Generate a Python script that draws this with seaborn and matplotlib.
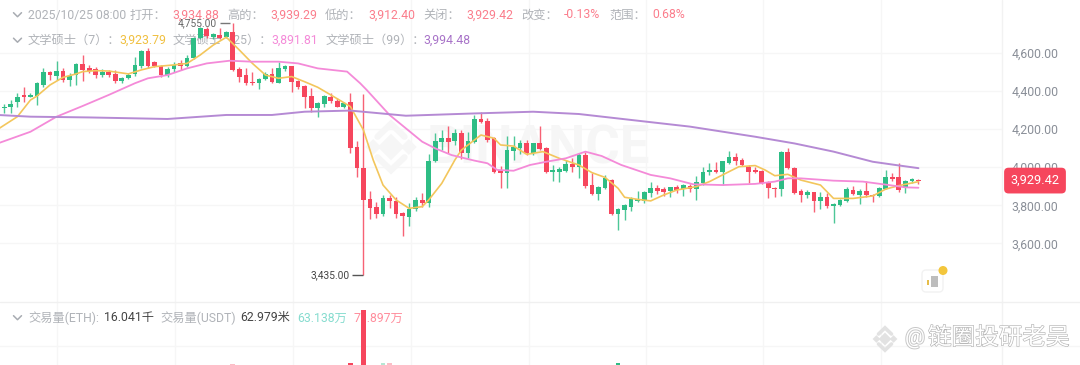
import matplotlib
matplotlib.use("Agg")
import matplotlib.pyplot as plt
import matplotlib.patheffects as pe
from matplotlib.patches import FancyBboxPatch, Circle, Rectangle
import seaborn as sns

# candle values, one list per field, first candle is partly cut off
opens = [4306, 4308, 4317, 4339, 4378, 4369, 4372, 4430, 4496, 4479, 4503, 4456, 4482, 4538, 4521, 4512, 4482, 4498, 4488, 4451, 4467,
         4486, 4531, 4610, 4552, 4531, 4481, 4512, 4543, 4531, 4571, 4674, 4721, 4680, 4692, 4680, 4709, 4512, 4482, 4447, 4439,
         4463, 4488, 4442, 4516, 4528, 4453, 4425, 4374, 4308, 4331, 4369, 4348, 4317, 4343, 4103, 3997, 3831, 3793, 3753, 3840,
         3823, 3760, 3740, 3779, 3828, 3810, 4032, 4133, 4154, 4137, 4177, 4076, 4130, 4252, 4243, 4154, 3985, 3971, 4086, 4098,
         4128, 4076, 4124, 4102, 3974, 3976, 3980, 4014, 3999, 4063, 3906, 3859, 3889, 3932, 3753, 3775, 3793, 3823, 3824, 3866,
         3892, 3884, 3873, 3894, 3885, 3901, 3884, 3915, 3973, 3985, 3976, 4020, 4055, 4037, 4002, 3985, 3980, 3924, 3892, 3885,
         4081, 3997, 3875, 3852, 3868, 3824, 3842, 3795, 3800, 3822, 3880, 3856, 3875, 3856, 3849, 3885, 3950, 3946, 3889, 3925, 3934.88]
highs = [4334, 4331, 4351, 4386, 4421, 4390, 4447, 4517, 4505, 4557, 4517, 4491, 4543, 4587, 4535, 4526, 4512, 4509, 4509, 4474, 4491,
         4578, 4613, 4622, 4556, 4535, 4526, 4552, 4561, 4587, 4680, 4735, 4735, 4700, 4727, 4714, 4755, 4526, 4517, 4500, 4465,
         4500, 4517, 4552, 4535, 4531, 4456, 4430, 4413, 4343, 4378, 4386, 4360, 4343, 4386, 4138, 4383, 3875, 3819, 3854, 3854,
         3845, 3763, 3810, 3842, 3863, 4069, 4177, 4194, 4217, 4198, 4194, 4185, 4273, 4290, 4255, 4159, 4006, 4163, 4163, 4142,
         4142, 4128, 4217, 4107, 4011, 3999, 4037, 4046, 4076, 4081, 3967, 3901, 3959, 3936, 3784, 3807, 3845, 3875, 3875, 3924,
         3906, 3894, 3898, 3906, 3910, 3911, 3953, 3999, 4023, 4028, 4034, 4084, 4072, 4046, 4011, 4002, 3985, 3927, 3895, 4084,
         4102, 4002, 3884, 3880, 3871, 3868, 3866, 3810, 3833, 3898, 3901, 3884, 3929, 3859, 3898, 3985, 3967, 4023, 3932, 3941, 3939.29]
lows = [4290, 4282, 4282, 4317, 4343, 4365, 4325, 4421, 4456, 4456, 4447, 4425, 4430, 4451, 4491, 4465, 4474, 4474, 4442, 4439, 4461,
        4477, 4517, 4517, 4526, 4474, 4474, 4500, 4509, 4526, 4564, 4669, 4674, 4669, 4669, 4674, 4505, 4447, 4430, 4430, 4407,
        4456, 4439, 4439, 4505, 4395, 4407, 4308, 4290, 4264, 4317, 4338, 4313, 4308, 4072, 3946, 3435, 3727, 3732, 3744, 3784,
        3732, 3641, 3692, 3772, 3789, 3789, 4028, 4089, 4072, 4116, 4041, 4046, 4124, 4233, 4130, 3967, 3889, 3892, 4037, 4069,
        4063, 4063, 4089, 3967, 3929, 3924, 3976, 3976, 3941, 3889, 3854, 3828, 3885, 3749, 3671, 3723, 3772, 3819, 3814, 3845,
        3859, 3849, 3845, 3863, 3849, 3871, 3828, 3906, 3959, 3967, 3906, 4018, 4011, 4006, 3918, 3971, 3912, 3836, 3845, 3849,
        3990, 3859, 3819, 3836, 3767, 3779, 3784, 3706, 3796, 3819, 3856, 3807, 3842, 3816, 3842, 3884, 3929, 3871, 3863, 3915, 3912.40]
closes = [4320, 4317, 4331, 4369, 4367, 4378, 4439, 4498, 4484, 4502, 4456, 4477, 4538, 4509, 4505, 4482, 4498, 4481, 4449, 4467, 4484,
          4533, 4610, 4531, 4530, 4484, 4516, 4535, 4530, 4573, 4674, 4727, 4687, 4695, 4674, 4709, 4509, 4474, 4439, 4439, 4461,
          4489, 4447, 4517, 4528, 4447, 4421, 4369, 4308, 4334, 4372, 4346, 4317, 4334, 4098, 3993, 3826, 3788, 3753, 3840, 3823,
          3754, 3742, 3781, 3828, 3810, 4032, 4137, 4154, 4133, 4180, 4072, 4138, 4252, 4238, 4142, 3976, 3971, 4089, 4103, 4128,
          4072, 4124, 4093, 3976, 3985, 3988, 4014, 3999, 4063, 3901, 3857, 3894, 3941, 3753, 3779, 3802, 3831, 3831, 3871, 3892,
          3875, 3871, 3894, 3880, 3906, 3884, 3924, 3976, 3985, 3973, 4030, 4055, 4034, 4011, 3976, 3973, 3915, 3889, 3885, 4081,
          3994, 3866, 3852, 3870, 3824, 3842, 3796, 3807, 3828, 3884, 3859, 3877, 3854, 3849, 3889, 3950, 3939, 3880, 3927, 3936, 3929.42]
candle_idx = list(range(-1, 140 + 1))

# moving averages, read at the points where the line bends
ma7_idx = [-1, 2, 4, 5, 7, 9, 11, 12, 14, 16, 19, 21, 23, 26, 28, 30, 32, 34, 36, 38, 40, 42, 44, 46, 48, 50, 53,
           55, 56.5, 58, 60, 62, 64, 65, 67, 69, 70, 72, 73, 75, 76, 78, 80, 82.5, 85, 88, 90, 92, 94, 95, 97, 99, 101, 103,
           106, 108, 110, 112.5, 115, 116.5, 118, 120, 122, 125, 127, 130, 133, 135, 137, 140]
ma7 = [4198, 4264, 4351, 4372, 4430, 4470, 4488, 4500, 4505, 4503, 4488, 4509, 4526, 4535, 4543, 4587, 4639, 4680, 4613, 4543, 4482, 4465, 4474, 4447, 4418, 4378, 4317,
       4194, 4037, 3906, 3828, 3784, 3793, 3828, 3915, 4037, 4089, 4142, 4168, 4151, 4116, 4110, 4067, 4081, 4046, 4011, 3971, 3946, 3889, 3842, 3831, 3823, 3854, 3880,
       3898, 3924, 3959, 4002, 4008, 3985, 3955, 3962, 3932, 3906, 3836, 3836, 3849, 3885, 3903, 3923.79]
ma25_idx = [-1, 4, 8, 12, 16, 20, 22, 25, 28, 31, 34.5, 38, 42, 45, 48, 52.5, 54.5, 55.5, 59, 61.5, 64, 66, 68.5, 72, 74, 75.5, 78, 80.5, 83,
            86, 89, 91.5, 94.5, 99, 102, 105.5, 110, 115, 118, 120, 122, 127, 131.5, 135.5, 138, 140]
ma25 = [4124, 4185, 4264, 4320, 4378, 4439, 4465, 4482, 4517, 4543, 4557, 4552, 4552, 4543, 4517, 4500, 4439, 4404, 4273, 4203, 4133, 4098, 4063, 4034, 4020, 3985, 3981, 4011, 4028,
        4046, 4081, 4058, 4011, 3959, 3941, 3910, 3906, 3912, 3924, 3941, 3941, 3929, 3924, 3906, 3894, 3891.81]
ma99_idx = [-1, 4, 13, 25, 34, 41, 46, 53, 61.5, 72, 81, 88, 97, 105, 115, 121, 127, 133, 136.5, 140]
ma99 = [4273, 4264, 4260, 4252, 4273, 4273, 4290, 4296, 4269, 4281, 4290, 4278, 4243, 4212, 4159, 4124, 4081, 4028, 4011, 3994.48]

# only the tallest volume bars reach into the visible strip
vol_idx = [35, 53, 55, 58, 59, 94]
vol_val = [8000, 13000, 326000, 9000, 9000, 14000]

price_ticks = [3600, 3800, 4000, 4200, 4400, 4600]
last_close = 3929.42

GREEN = "#2ebd85"
RED = "#f6465d"
GRID = "#f6f6f6"
LABEL = "#b0b3b8"

sns.set_theme(style="white")
plt.rcParams["font.family"] = ["Roboto", "Noto Sans CJK SC", "DejaVu Sans"]

W, H = 1080, 365
fig = plt.figure(figsize=(W / 100, H / 100), dpi=100, facecolor="white")

# overlay in pixel units for the headers, watermarks and the small icon
ov = fig.add_axes([0, 0, 1, 1], zorder=0)
ov.set_xlim(0, W)
ov.set_ylim(H, 0)
ov.axis("off")


def draw_logo(cx, cy, s, color, lw, zorder=1):
    # diamond mark, s is half its height
    ov.scatter([cx, cx - s * 0.66, cx + s * 0.66], [cy, cy, cy], marker="D", s=[(s * 0.5) ** 2, (s * 0.3) ** 2, (s * 0.3) ** 2],
               color=color, linewidths=0, zorder=zorder)
    for sign in (-1, 1):
        ov.plot([cx - s * 0.5, cx, cx + s * 0.5], [cy + sign * s * 0.38, cy + sign * s * 0.86, cy + sign * s * 0.38],
                color=color, lw=lw, zorder=zorder, solid_joinstyle="miter")


def chevron(y):
    ov.plot([13.5, 17.5, 21.5], [y - 2.3, y + 1.7, y - 2.3], color="#a8acb2", lw=1.1)


draw_logo(391, 147, 27, "#f6f6f6", 4.5)
ov.text(427, 149, "BINANCE", fontsize=38, fontweight="bold", color="#f6f6f6", va="center", ha="left")

for x in [57, 175, 293, 411, 529, 646, 763, 881]:
    ov.axvline(x, color=GRID, lw=1)
ov.axvline(1002, color="#f2f2f2", lw=1)
ov.axhline(302, color="#f0f0f0", lw=1)
ov.axhline(346, color=GRID, lw=1)

header1 = [(28, "2025/10/25 08:00", LABEL), (130, "打开：", LABEL), (172, "3,934.88", "#fb7d8c"), (227, "高的：", LABEL), (270, "3,939.29", "#fb7d8c"),
           (325, "低的：", LABEL), (368, "3,912.40", "#fb7d8c"), (423, "关闭：", LABEL), (466, "3,929.42", "#fb7d8c"), (521, "改变：", LABEL),
           (564, "-0.13%", "#fb7d8c"), (609, "范围：", LABEL), (652, "0.68%", "#fb7d8c")]
header2 = [(28, "文学硕士（7）：", LABEL), (119, "3,923.79", "#f0c040"), (173, "文学硕士（25）：", LABEL), (271, "3,891.81", "#f48ad8"),
           (326, "文学硕士（99）：", LABEL), (423, "3,994.48", "#a873c8")]
header3 = [(28, "交易量(ETH):", LABEL), (104, "16.041千", "#444444"), (160, "交易量(USDT)", LABEL), (240, "62.979米", "#444444"),
           (297, "63.138万", "#86dccf"), (354, "71.897万", "#ff8d9c")]
for row, y in [(header1, 15), (header2, 40.5), (header3, 318)]:
    chevron(y)
    for x, s, c in row:
        ov.text(x, y, s, fontsize=8.8, color=c, va="center", ha="left")

# strategy icon and its yellow dot
ov.add_patch(FancyBboxPatch((924, 272), 17, 18, boxstyle="round,pad=2,rounding_size=4", fc="white", ec="#f2f2f2", lw=1, zorder=2))
ov.add_patch(Rectangle((931, 276), 7, 11, fc="#bdbdbd", ec="none", zorder=3))
ov.add_patch(Rectangle((926.5, 280), 2, 5, fc="#e6bd4a", ec="none", zorder=3))
ov.add_patch(Circle((943, 270.5), 4.5, fc="#f3c63c", ec="none", zorder=4))

# bottom right watermark
draw_logo(885, 339, 13, "#e2e2e2", 2.6, zorder=5)
ov.text(915, 338, "@", fontsize=16, color="white", ha="center", va="center", zorder=6,
        path_effects=[pe.withStroke(linewidth=1.4, foreground="#c8c8c8")])
ov.text(928, 338, "链圈投研老吴", fontsize=17, color="white", ha="left", va="center", zorder=6,
        path_effects=[pe.withStroke(linewidth=0.9, foreground="#b4b4b4")])

# price panel, limits chosen so that 4,600 and 3,600 land on the reference rows
ax = fig.add_axes([0, 1 - 302 / H, 1002 / W, 302 / H], zorder=1)
ax.patch.set_visible(False)
ax.set_xlim(-0.66, 152.8)
ax.set_ylim(3293.6, 4875)

for y in price_ticks:
    ax.axhline(y, color=GRID, lw=1, zorder=0)

colors = [GREEN if c >= o else RED for o, c in zip(opens, closes)]
bottoms = [min(o, c) for o, c in zip(opens, closes)]
heights = [abs(c - o) for o, c in zip(opens, closes)]
ax.vlines(candle_idx, lows, highs, colors=colors, lw=1.0, alpha=0.85, zorder=2)
ax.bar(candle_idx, heights, bottom=bottoms, width=0.72, color=colors, linewidth=0, zorder=3)

sns.lineplot(x=ma7_idx, y=ma7, ax=ax, color="#f3c65c", lw=1.2, zorder=4, estimator=None, sort=False)
sns.lineplot(x=ma25_idx, y=ma25, ax=ax, color="#f48ad8", lw=1.3, zorder=4, estimator=None, sort=False)
sns.lineplot(x=ma99_idx, y=ma99, ax=ax, color="#b58ad4", lw=1.4, zorder=4, estimator=None, sort=False)

# high and low markers
hi = max(highs)
hi_i = candle_idx[highs.index(hi)]
lo = min(lows)
lo_i = candle_idx[lows.index(lo)]
ax.hlines(hi, hi_i - 2, hi_i - 0.4, color="#777777", lw=1, zorder=5)
ax.text(hi_i - 2.4, hi, f"{hi:,.2f}", fontsize=7.3, color="#666666", ha="right", va="center", zorder=5)
ax.hlines(lo, lo_i - 1.7, lo_i, color="#555555", lw=1, zorder=5)
ax.text(lo_i - 2.1, lo, f"{lo:,.2f}", fontsize=7.3, color="#444444", ha="right", va="center", zorder=5)

ax.set_xticks([])
ax.set_yticks(price_ticks)
ax.set_yticklabels([f"{v:,.2f}" for v in price_ticks])
ax.yaxis.tick_right()
ax.tick_params(axis="y", length=0, pad=7, labelsize=8.8, labelcolor="#8a8f98")
for side in ax.spines.values():
    side.set_visible(False)

ax.text(1035 / 1002, last_close, f"{last_close:,.2f}", transform=ax.get_yaxis_transform(), fontsize=9.2, color="white",
        ha="center", va="center", zorder=6, clip_on=False,
        bbox=dict(boxstyle="round,pad=0.5,rounding_size=0.35", fc=RED, ec="none"))

# volume panel, only the tips of the bars show
vax = fig.add_axes([0, 0, 1002 / W, 63 / H], zorder=1)
vax.patch.set_visible(False)
vax.set_xlim(-0.66, 152.8)
vax.set_ylim(0, 372000)
vol_colors = [GREEN if closes[candle_idx.index(i)] >= opens[candle_idx.index(i)] else RED for i in vol_idx]
vol_alpha = [1 if v > 12000 else 0.35 for v in vol_val]
vax.bar(vol_idx, vol_val, width=0.72, color=vol_colors, linewidth=0)
for patch, a in zip(vax.patches, vol_alpha):
    patch.set_alpha(a)
vax.axis("off")

fig.savefig("out.png", dpi=100)
